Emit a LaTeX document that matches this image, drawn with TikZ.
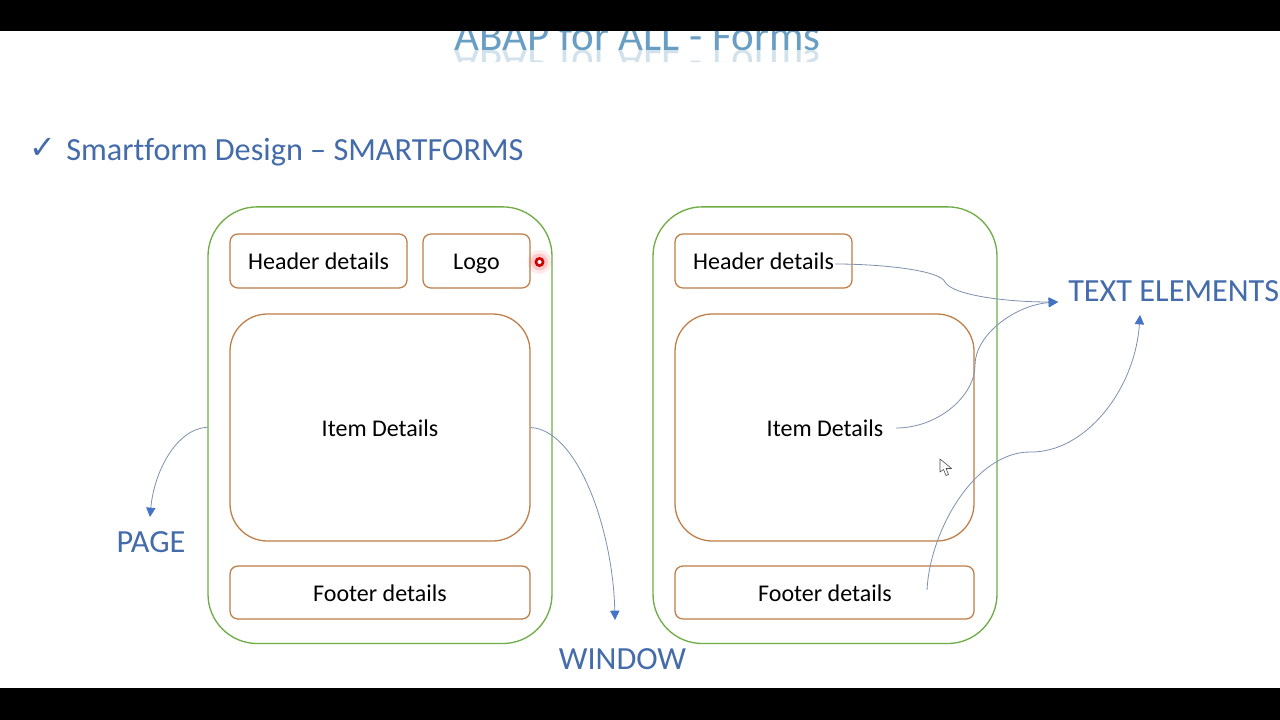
\documentclass[tikz,border=0pt]{standalone}
\usepackage{fontspec}
\setmainfont{Carlito}[Ligatures=CommonOff]
\newfontfamily\symfont{DejaVu Sans}
\usetikzlibrary{arrows.meta}
\definecolor{slideblue}{RGB}{68,107,170}
\definecolor{titleblue}{RGB}{104,158,196}
\definecolor{framegreen}{RGB}{112,173,71}
\definecolor{boxbrown}{RGB}{190,125,70}
\definecolor{linkgrey}{RGB}{125,145,175}
\definecolor{tipblue}{RGB}{68,114,196}
\tikzset{
  x=0.75pt,y=-0.75pt,
  pagebox/.style={draw=framegreen,line width=1pt,rounded corners=37pt,inner sep=0pt,minimum width=258pt,minimum height=327.5pt},
  smallbox/.style={draw=boxbrown,line width=0.95pt,rounded corners=6pt,inner sep=0pt,font=\fontsize{18}{20}\selectfont,text=black,text height=12.3pt,text depth=0pt},
  bigbox/.style={smallbox,rounded corners=28pt},
  plain/.style={inner sep=0pt,font=\fontsize{18}{20}\selectfont,text height=12.3pt,text depth=0pt},
  tag/.style={inner sep=0pt,text=slideblue,font=\fontsize{24.2}{26}\selectfont},
  link/.style={draw=linkgrey,line width=0.6pt,-{Triangle[length=7pt,width=7pt,fill=tipblue,color=tipblue]}},
}
\begin{document}
\begin{tikzpicture}
\useasboundingbox (0,0) rectangle (1280,720);
\fill[white] (0,0) rectangle (1280,720);
% title, cut off by the black bar
\node[anchor=base,inner sep=0pt,text=titleblue,font=\fontsize{32.3}{34}\selectfont] (title) at (637.5,51) {ABAP for ALL - Forms};
\begin{scope}
\clip (400,51) rectangle (880,62);
\node[anchor=base,inner sep=0pt,text=titleblue!30,font=\fontsize{32.3}{34}\selectfont,yscale=-1] (mirror) at (637.5,51) {ABAP for ALL - Forms};
\end{scope}
\fill[black] (0,0) rectangle (1280,31);
\fill[black] (0,688) rectangle (1280,720);
% heading
\node[anchor=base west,inner sep=0pt,text=slideblue,font=\symfont\fontsize{24}{26}\selectfont] (tick) at (29,158.5) {✓};
\node[tag,anchor=base west] (heading) at (66,161) {Smartform Design – SMARTFORMS};
% left page
\node[pagebox] (pageL) at (380,425.2) {};
\node[smallbox,minimum width=132.75pt,minimum height=40.5pt] (headL) at (318.5,261) {Header details};
\node[smallbox,minimum width=80.25pt,minimum height=40.5pt] (logo) at (476.5,261) {Logo};
\node[bigbox,minimum width=225pt,minimum height=170.25pt] (itemL) at (380,427.5) {};
\node[plain] (itemLtext) at (380,428.3) {Item Details};
\node[smallbox,minimum width=225pt,minimum height=39.75pt] (footL) at (380,592.5) {};
\node[plain] (footLtext) at (380,593) {Footer details};
% right page
\node[pagebox] (pageR) at (825,425.2) {};
\node[smallbox,minimum width=132.75pt,minimum height=40.5pt] (headR) at (763.5,261) {Header details};
\node[bigbox,minimum width=224.25pt,minimum height=170.25pt] (itemR) at (824.5,427.5) {};
\node[plain] (itemRtext) at (825,428.3) {Item Details};
\node[smallbox,minimum width=224.25pt,minimum height=39.75pt] (footR) at (824.5,592.5) {};
\node[plain] (footRtext) at (825,593) {Footer details};
% labels
\node[tag,anchor=base] (page) at (151,552) {PAGE};
\node[tag,anchor=base] (window) at (622.5,669) {WINDOW};
\node[tag,anchor=base west] (text) at (1068,301) {TEXT ELEMENTS};
% connector ends
\coordinate (pageTip) at (150,517);
\coordinate (winTip) at (615,620);
\coordinate (textTipA) at (1058,302);
\coordinate (textTipB) at (1140,315);
\coordinate (headStart) at (835,264);
\coordinate (itemStart) at (896,428);
\coordinate (footStart) at (927,590);
% connectors
\draw[link] (pageL.west) ++(0,2) .. controls (176,429) and (154,472) .. (pageTip);
\draw[link] (itemL.east) .. controls (578,430) and (613,530) .. (winTip);
\draw[link] (headStart) .. controls (880,264) and (940,270) .. (945,282) .. controls (952,295) and (1005,302) .. (textTipA);
\draw[link] (itemStart) .. controls (938,428) and (975,396) .. (975,365) .. controls (975,335) and (1015,305) .. (textTipA);
\draw[link] (footStart) .. controls (930,530) and (975,452) .. (1030,452) .. controls (1085,453) and (1135,390) .. (textTipB);
% laser pointer
\fill[red,opacity=0.08] (539.5,262) circle (12);
\fill[red,opacity=0.15] (539.5,262) circle (8.5);
\fill[white] (539.5,262) circle (4.5);
\draw[draw=red!80!black,line width=2pt] (539.5,262) circle (3.6);
% mouse cursor
\draw[black!70,fill=white,line width=0.45pt,line join=round] (940,459) -- (940,472) -- (943.5,469.5) -- (946,475.5) -- (948.5,474.5) -- (946,468.5) -- (951.5,468.5) -- cycle;
\end{tikzpicture}
\end{document}
